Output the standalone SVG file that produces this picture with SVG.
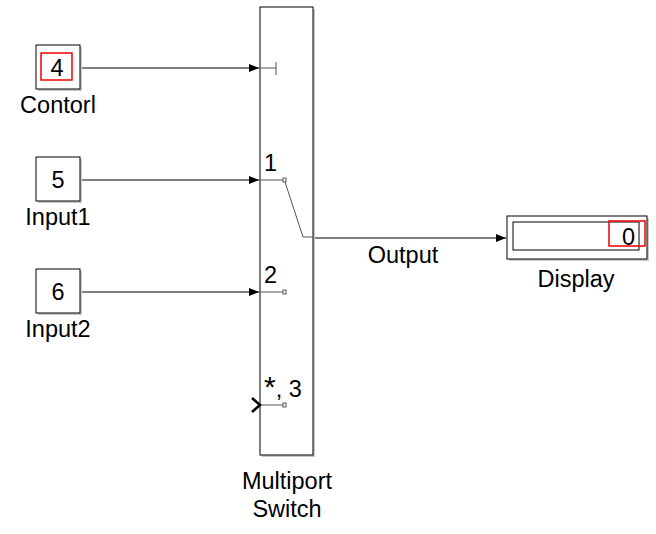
<svg xmlns="http://www.w3.org/2000/svg" width="656" height="534" viewBox="0 0 656 534">
<style>
text{font-family:"Liberation Sans",Arial,sans-serif;fill:#000;font-size:23.5px}
.b{fill:#fff;stroke:#000;stroke-width:1}
.sh{fill:#c8c8c8}
.w{stroke:#000;stroke-width:1;fill:none}
.g{stroke:#555;stroke-width:1;fill:none}
.red{fill:none;stroke:#e00;stroke-width:1.5}
</style>
<defs><marker id="a" markerWidth="10" markerHeight="8" refX="10" refY="4" orient="auto" markerUnits="userSpaceOnUse"><path d="M0,0L10,4L0,8z" fill="#000"/></marker></defs>
<rect width="656" height="534" fill="#fff"/>
<g id="connectors">
<path class="w" d="M80,68H259" marker-end="url(#a)"/>
<path class="w" d="M80,180H259" marker-end="url(#a)"/>
<path class="w" d="M80,292H259" marker-end="url(#a)"/>
<path class="w" d="M314,238H506" marker-end="url(#a)"/>
<text x="403" y="263" text-anchor="middle">Output</text>
</g>
<g id="c4"><rect class="sh" x="38" y="47" width="44" height="44"/><rect class="b" x="36" y="45" width="44" height="44"/><text x="57" y="76" text-anchor="middle">4</text><rect class="red" x="41" y="53" width="31" height="27"/><text x="58" y="113" text-anchor="middle">Contorl</text></g>
<g id="c5"><rect class="sh" x="38" y="159" width="44" height="44"/><rect class="b" x="36" y="157" width="44" height="44"/><text x="58" y="188" text-anchor="middle">5</text><text x="58" y="225" text-anchor="middle">Input1</text></g>
<g id="c6"><rect class="sh" x="38" y="271" width="44" height="44"/><rect class="b" x="36" y="269" width="44" height="44"/><text x="58" y="300" text-anchor="middle">6</text><text x="58" y="337" text-anchor="middle">Input2</text></g>
<g id="switch">
<rect class="sh" x="262" y="9" width="53" height="448"/><rect class="b" x="260" y="7" width="53" height="448"/>
<path class="g" d="M260,68H276M276,62V75"/>
<path class="g" d="M260,180H283M285,182L303,237H313"/>
<rect x="283" y="178" width="3" height="4" class="g"/>
<path class="g" d="M260,292H283"/><rect x="283" y="290" width="3" height="4" class="g"/>
<path class="g" d="M260,405H283"/><rect x="283" y="403" width="3" height="4" class="g"/>
<path d="M252,398L260,405L252,412" stroke="#000" stroke-width="2.5" fill="none"/>
<text x="264" y="171">1</text>
<text x="264" y="283">2</text>
<text x="264" y="397"><tspan font-size="30">*</tspan>, 3</text>
<text x="287" y="489" text-anchor="middle">Multiport</text>
<text x="287" y="517" text-anchor="middle">Switch</text>
</g>
<g id="display">
<rect class="sh" x="509" y="218" width="140" height="43"/><rect class="b" x="507" y="216" width="140" height="43"/>
<rect class="b" x="513" y="222" width="126" height="28"/>
<text x="635" y="245" text-anchor="end">0</text>
<rect class="red" x="609" y="221" width="36" height="25"/>
<text x="576" y="287" text-anchor="middle">Display</text>
</g>
</svg>
